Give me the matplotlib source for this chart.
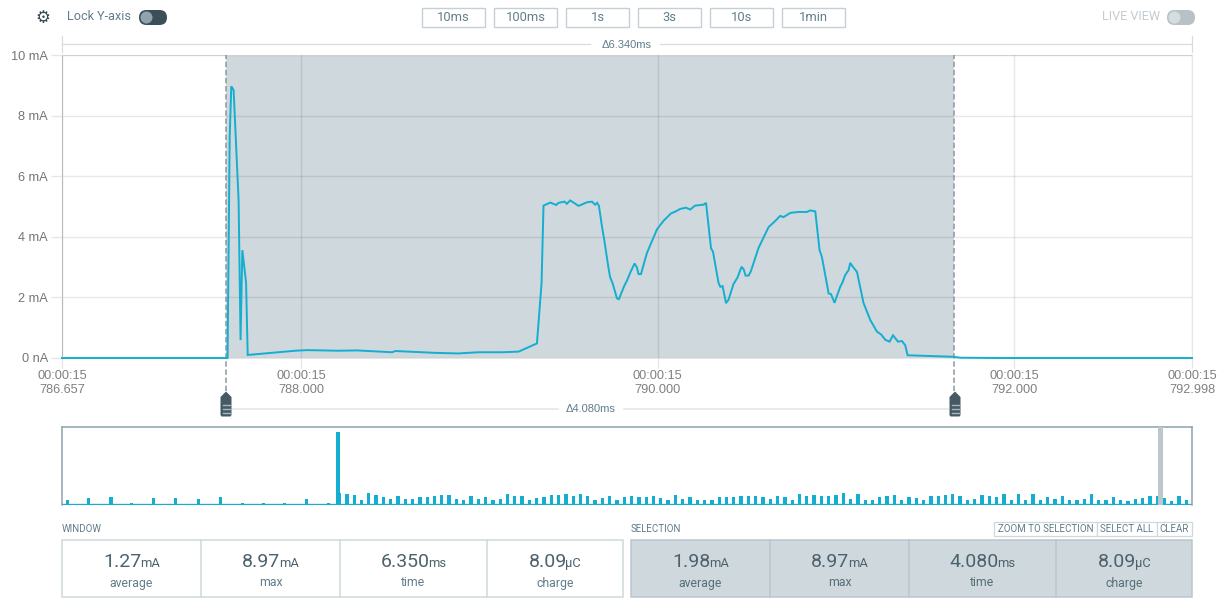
import matplotlib
matplotlib.use("Agg")
import matplotlib.pyplot as plt
from matplotlib.patches import Rectangle, FancyBboxPatch, Circle, Polygon

# Main trace, time in ms and current in mA
time_ms = [786.657, 787.586, 787.598, 787.607, 787.620, 787.648, 787.659, 787.669, 787.690, 787.699,
           787.966, 788.032, 788.123, 788.208, 788.313, 788.509, 788.528, 788.752, 788.881, 788.993,
           789.128, 789.219, 789.322, 789.348, 789.359, 789.397, 789.430, 789.443,
           789.477, 789.490, 789.509, 789.556, 789.603, 789.631, 789.649, 789.660, 789.670, 789.687,
           789.700, 789.724, 789.733, 789.746, 789.771, 789.782, 789.812, 789.827, 789.846, 789.870,
           789.883, 789.892, 789.906, 789.939, 789.996, 790.033, 790.074, 790.098, 790.126, 790.158,
           790.182, 790.210, 790.257, 790.271, 790.299, 790.310, 790.341, 790.351, 790.364, 790.383,
           790.397, 790.425, 790.448, 790.470, 790.482, 790.493, 790.510, 790.523, 790.566, 790.622,
           790.659, 790.687, 790.706, 790.744, 790.790, 790.837, 790.856, 790.884, 790.908, 790.921,
           790.959, 790.972, 790.992, 791.024, 791.037, 791.052, 791.071, 791.080, 791.095, 791.118,
           791.155, 791.193, 791.230, 791.253, 791.277, 791.301, 791.320, 791.348, 791.370, 791.389,
           791.402, 791.660, 791.698, 791.922, 792.998]
current_ma = [0, 0, 7.30, 8.97, 8.84, 5.2, 0.59, 3.56, 2.48, 0.1,
              0.24, 0.26, 0.25, 0.24, 0.25, 0.19, 0.23, 0.17, 0.15, 0.19,
              0.19, 0.21, 0.48, 2.46, 5.03, 5.13, 5.05, 5.12,
              5.16, 5.09, 5.2, 5.02, 5.14, 5.16, 5.06, 5.12, 5.02, 4.34,
              3.89, 2.96, 2.66, 2.48, 1.97, 1.94, 2.38, 2.55, 2.82, 3.12,
              2.99, 2.77, 2.77, 3.46, 4.25, 4.53, 4.77, 4.83, 4.92, 4.96,
              4.9, 5.03, 5.06, 5.12, 3.62, 3.51, 2.48, 2.35, 2.37, 1.81,
              1.92, 2.44, 2.66, 3.01, 2.93, 2.72, 2.72, 2.87, 3.64, 4.32,
              4.52, 4.69, 4.65, 4.79, 4.82, 4.82, 4.87, 4.84, 3.56, 3.34,
              2.13, 2.11, 1.82, 2.35, 2.5, 2.74, 2.9, 3.14, 3.01, 2.84,
              1.81, 1.25, 0.87, 0.78, 0.6, 0.54, 0.75, 0.54, 0.56, 0.42,
              0.09, 0.04, 0.01, 0, 0]

y_ticks = [0, 2, 4, 6, 8, 10]
y_labels = ["0 nA", "2 mA", "4 mA", "6 mA", "8 mA", "10 mA"]
x_ticks = [786.657, 788.000, 790.000, 792.000, 792.998]
x_labels = ["00:00:15\n786.657", "00:00:15\n788.000", "00:00:15\n790.000", "00:00:15\n792.000", "00:00:15\n792.998"]
cursor_start = 787.580
cursor_end = 791.664

# Overview strip, spike heights
early_pos = [0.78, 3.66, 6.7, 9.55, 12.56, 15.57, 18.7, 21.7, 24.7, 27.6, 30.5, 33.5, 36.5]
early_height = [5, 7.3, 8.3, 2.3, 6.7, 7, 5.7, 8, 2, 1.7, 1.7, 5.7, 2]
peak_pos = 37.8
peak_height = 73
late_height = [11.7, 10.7, 9.7, 5.3, 11.7, 10, 8.3, 6, 9.3,
               6, 6, 8, 8, 8.7, 9.7, 10.3, 6, 5, 9, 5.7, 7.7, 5.3, 6.3, 10.7, 9, 9, 5.3, 7.3, 8, 10,
               10.3, 11.3, 9, 10.7, 8.7, 5.3, 7.3, 9.3, 5.3, 8, 9.3, 7.7, 8, 9, 6.7, 5.3, 10, 6, 7.7,
               5.3, 5.3, 5.3, 8, 8, 8.3, 8.7, 8.7, 8.7, 8, 6.3, 9.3, 8.3, 5.3, 11.3,
               9.3, 10, 9.3, 9.3, 10, 12, 6, 11.3, 4.7, 5.3, 8, 8.7, 9.7, 5.3, 7.7, 7.3, 5.3, 8.7,
               9.3, 10, 11, 9, 5.3, 6, 10.3, 8.7, 8.3, 11.3, 5.3, 10.7, 4.7, 10.7, 5.3, 8, 6, 9.3,
               5.3, 5.3, 6, 10.7, 4.7, 5.3, 8, 5.3, 4.3, 6, 6.7, 9, 9.3, 7.3, 4.3, 8.7, 4.7]
late_first_pos = 38.03
window_band = (150.2, 150.8)

# Stat tables
window_values = [("1.27", "mA", "average"), ("8.97", "mA", "max"), ("6.350", "ms", "time"), ("8.09", "µC", "charge")]
selection_values = [("1.98", "mA", "average"), ("8.97", "mA", "max"), ("4.080", "ms", "time"), ("8.09", "µC", "charge")]
range_buttons = ["10ms", "100ms", "1s", "3s", "10s", "1min"]

W, H = 1221, 606
TRACE = "#14aed0"
SLATE = "#cfd8dc"
DARK = "#455a64"
TEXT = "#607d8b"
ARIAL = "Liberation Sans"
ROBOTO = "Roboto"


def px_axes(fig, left, top, right, bottom, **kw):
    return fig.add_axes([left / W, 1 - bottom / H, (right - left) / W, (bottom - top) / H], **kw)


fig = plt.figure(figsize=(W / 100, H / 100), dpi=100, facecolor="white")

# Main chart
ax = px_axes(fig, 62, 55, 1192, 358)
ax.set_xlim(786.657, 792.998)
ax.set_ylim(0, 10)
ax.axvspan(cursor_start, cursor_end, color=SLATE, lw=0, zorder=1)
ax.set_yticks(y_ticks, y_labels, fontsize=9.2, color="#757575", fontname=ARIAL)
ax.set_xticks(x_ticks, x_labels, fontsize=9.2, color="#808080", fontname=ARIAL, linespacing=1.2)
ax.tick_params(axis="y", length=8, width=1, color="#e6e6e6", pad=2)
ax.tick_params(axis="x", length=7, width=1, color="#e6e6e6", pad=1.5)
ax.grid(True, color="black", alpha=0.09, lw=1, zorder=2)
ax.set_axisbelow(False)
for side in ["top", "right", "bottom"]:
    ax.spines[side].set_color("#e6e6e6")
ax.spines["left"].set_color("#cccccc")
ax.plot(time_ms, current_ma, color=TRACE, lw=1.4, zorder=4, solid_joinstyle="miter", clip_on=False)
for c in [cursor_start, cursor_end]:
    ax.axvline(c, ymin=-0.11, ymax=1, color="#8a979e", lw=1.1, ls=(0, (3.5, 1.8)), clip_on=False, zorder=3)

# Overview strip
ov = px_axes(fig, 62, 427, 1192, 505)
ov.set_xlim(0, 154.8)
ov.set_ylim(0, 78)
ov.set_xticks([])
ov.set_yticks([])
ov.axvspan(window_band[0], window_band[1], color="#bcc8ce", lw=0, zorder=3)
ov.bar(early_pos, early_height, width=0.45, color=TRACE, zorder=2)
ov.bar([peak_pos], [peak_height], width=0.46, color=TRACE, zorder=2)
ov.bar([late_first_pos + i for i in range(len(late_height))], late_height, width=0.45, color=TRACE, zorder=2)
ov.axhline(0, color=TRACE, lw=2.4, zorder=2)
for spine in ov.spines.values():
    spine.set_color("#8da2ae")
    spine.set_linewidth(1.1)
ov.spines["bottom"].set_visible(False)

# Overlay in pixel coordinates for the interface parts
ui = fig.add_axes([0, 0, 1, 1], zorder=10)
ui.set_xlim(0, W)
ui.set_ylim(H, 0)
ui.axis("off")
ui.patch.set_alpha(0)


def toggle(x0, x1, y0, y1, fill, knob):
    r = (y1 - y0) / 2
    ui.add_patch(FancyBboxPatch((x0, y0), x1 - x0, y1 - y0, boxstyle=f"round,pad=0,rounding_size={r}",
                                fc=fill, ec="none"))
    ui.add_patch(Circle((x0 + r, y0 + r), r - 1.5, fc=knob, ec="none", zorder=3))


# Top bar
ui.text(43, 18, "\u2699", fontsize=12, color="#37474f", ha="center", va="center", family="DejaVu Sans")
ui.text(67, 17, "Lock Y-axis", fontsize=9.1, color=TEXT, ha="left", va="center", family=ROBOTO)
toggle(139, 167, 10, 25, "#3b4f5a", "#90a4ae")
ui.text(1160, 17, "LIVE VIEW", fontsize=9.1, color="#c3ccd1", ha="right", va="center", family=ROBOTO)
toggle(1167, 1195, 10, 25, "#b7c1c6", "#d6dde0")
for i, label in enumerate(range_buttons):
    x0 = 422 + i * 72
    ui.add_patch(Rectangle((x0, 8), 63, 19, fc="white", ec="#c5d0d6", lw=1))
    ui.text(x0 + 31.5, 17.5, label, fontsize=9.3, color=TEXT, ha="center", va="center", family=ROBOTO)

# Span bracket on top
ui.plot([62, 590], [44, 44], color="#d5dde1", lw=0.9)
ui.plot([660, 1192], [44, 44], color="#d5dde1", lw=0.9)
ui.plot([62, 62], [36, 52], color="#d5dde1", lw=0.9)
ui.plot([1192, 1192], [36, 52], color="#d5dde1", lw=0.9)
ui.text(627, 44.5, "\u03946.340ms", fontsize=8, color=TEXT, ha="center", va="center", family=ARIAL)

# Selection handles and bracket
ui.plot([233, 558], [409, 409], color="#e4e7e9", lw=1.2)
ui.plot([624, 948], [409, 409], color="#e4e7e9", lw=1.2)
ui.text(591, 409.5, "\u03944.080ms", fontsize=8, color=TEXT, ha="center", va="center", family=ARIAL)
for hx in [226, 955]:
    ui.add_patch(Polygon([(hx, 391.5), (hx + 5.5, 397), (hx + 5.5, 415), (hx + 4.5, 416.5), (hx - 4.5, 416.5),
                          (hx - 5.5, 415), (hx - 5.5, 397)], closed=True, fc=DARK, ec="none"))
    for ly in [405, 409, 413]:
        ui.plot([hx - 3.5, hx + 3.5], [ly, ly], color="#a9b6bd", lw=1)


def stat_table(x_edges, values, title, fill, edge, value_color, label_color):
    ui.text(x_edges[0], 529, title, fontsize=7, color=TEXT, ha="left", va="center", family=ROBOTO)
    ui.add_patch(Rectangle((x_edges[0], 540), x_edges[-1] - x_edges[0], 57, fc=fill, ec=edge, lw=1.1))
    for x in x_edges[1:-1]:
        ui.plot([x, x], [540, 597], color=edge, lw=1.1)
    renderer = fig.canvas.get_renderer()
    for i, (val, unit, label) in enumerate(values):
        cx = (x_edges[i] + x_edges[i + 1]) / 2
        t1 = ui.text(cx, 567, val, fontsize=14, color=value_color, ha="left", va="baseline", family=ROBOTO)
        t2 = ui.text(cx, 567, unit, fontsize=9.3, color=value_color, ha="left", va="baseline", family=ROBOTO)
        w1 = t1.get_window_extent(renderer).width - 1.5
        w2 = t2.get_window_extent(renderer).width
        t1.set_x(cx - (w1 + w2) / 2)
        t2.set_x(cx - (w1 + w2) / 2 + w1)
        ui.text(cx, 583, label, fontsize=8.8, color=label_color, ha="center", va="center", family=ROBOTO)


stat_table([62, 201, 340, 487, 623], window_values, "WINDOW", "white", "#cfd8dc", "#4c626d", "#607d8b")
stat_table([631, 770, 909, 1056, 1192], selection_values, "SELECTION", SLATE, "#bac7ce", "#4c626d", "#566e7a")

# Selection buttons
for x0, x1, label in [(994, 1097, "ZOOM TO SELECTION"), (1097, 1157, "SELECT ALL"), (1157, 1192, "CLEAR")]:
    ui.add_patch(Rectangle((x0, 522), x1 - x0, 14, fc="white", ec="#cfd8dc", lw=0.9))
    ui.text((x0 + x1) / 2, 529.3, label, fontsize=7, color=TEXT, ha="center", va="center", family=ROBOTO)

fig.savefig("out.png", dpi=100)
